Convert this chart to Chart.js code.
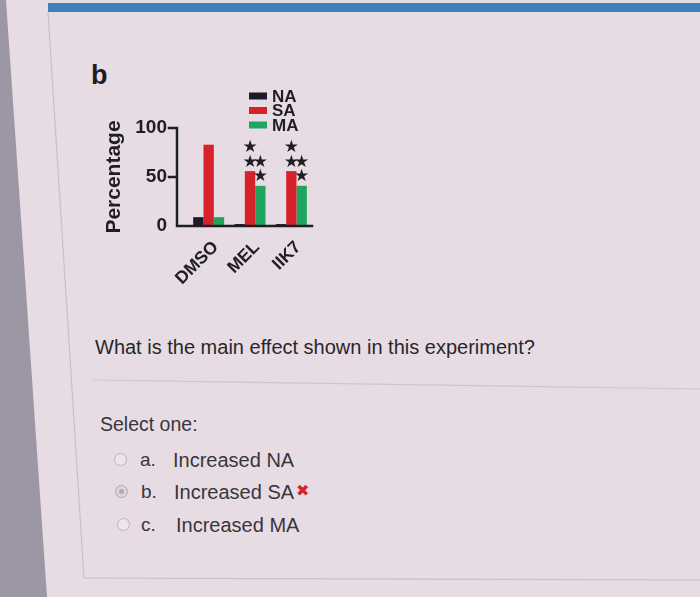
<!DOCTYPE html>
<html>
<head>
<meta charset="utf-8">
<script src="https://cdn.jsdelivr.net/npm/chart.js@4"></script>
<style>
  html, body { margin: 0; padding: 0; }
  body { width: 700px; height: 597px; background: #e7dce4; position: relative; overflow: hidden; font-family: "Liberation Sans", Arial, sans-serif; color: #2b2a2e; }
  #deco { position: absolute; left: 0; top: 0; }
  .txt { position: absolute; white-space: nowrap; }
  #fig { position: absolute; left: 80px; top: 60px; width: 250px; height: 240px; }
  .radio { position: absolute; width: 11px; height: 11px; border-radius: 50%; border: 1px solid #b9b3b9; background: #ece5ea; }
</style>
</head>
<body>
<svg id="deco" width="700" height="597">
  <polygon points="0,0 6,0 47,597 0,597" fill="#9d97a5"/>
  <rect x="48" y="3" width="652" height="9" fill="#3f80ba"/>
  <line x1="48" y1="12" x2="84" y2="578" stroke="#c9bfc7" stroke-width="1.2"/>
  <line x1="84" y1="578" x2="700" y2="580" stroke="#c9bfc7" stroke-width="1.2"/>
  <line x1="93" y1="380" x2="700" y2="389" stroke="#cfc5cd" stroke-width="1.2"/>
</svg>

<div class="txt" style="left:91px; top:60px; font-size:27px; font-weight:bold; color:#1e1d22;">b</div>
<div id="fig"><canvas id="chart"></canvas></div>

<div class="txt" style="left:95px; top:336px; font-size:20px; color:#28272b;">What is the main effect shown in this experiment?</div>
<div class="txt" style="left:100px; top:413px; font-size:19.5px; color:#38363b;">Select one:</div>

<div class="radio" style="left:114px; top:453px;"></div>
<div class="txt" style="left:140px; top:449px; font-size:19px; color:#38363b;">a.</div>
<div class="txt" style="left:173px; top:449px; font-size:20px; color:#38363b;">Increased NA</div>

<div class="radio" style="left:115px; top:485px; background:#b0aab0; box-shadow: inset 0 0 0 3px #ddd6db;"></div>
<div class="txt" style="left:141px; top:481px; font-size:19px; color:#38363b;">b.</div>
<div class="txt" style="left:174px; top:481px; font-size:20px; color:#38363b;">Increased SA</div>
<div class="txt" style="left:296px; top:481px; font-size:16px; font-weight:bold; color:#d1242f; font-family:'DejaVu Sans';">✖</div>

<div class="radio" style="left:117px; top:518px;"></div>
<div class="txt" style="left:141px; top:514px; font-size:19px; color:#38363b;">c.</div>
<div class="txt" style="left:176px; top:514px; font-size:20px; color:#38363b;">Increased MA</div>

<script>
// conditions and percentages
const conditions = ['DMSO', 'MEL', 'IIK7'];
const naValues = [9, 2, 2];
const saValues = [83, 56, 56];
const maValues = [9, 41, 41];
// significance stars above SA and MA bars
const saStars = ['', '**', '**'];
const maStars = ['', '**', '**'];
const yTicks = [0, 50, 100];

const FONT = '"Liberation Sans", Arial, sans-serif';
const INK = '#1f1e22';

// axis lines drawn a bit left of the first bar, like the figure
const axesPlugin = {
    id: 'axes',
    afterDraw(chart) {
        const ctx = chart.ctx;
        const y = chart.scales.y;
        const area = chart.chartArea;
        const xAxis = area.left - 11;
        ctx.save();
        ctx.strokeStyle = INK;
        ctx.lineWidth = 2.5;
        ctx.lineCap = 'square';
        ctx.beginPath();
        ctx.moveTo(xAxis, y.getPixelForValue(100));
        ctx.lineTo(xAxis, y.getPixelForValue(0));
        ctx.lineTo(area.right, y.getPixelForValue(0));
        yTicks.filter(v => v > 0).forEach(v => {
            ctx.moveTo(xAxis - 8, y.getPixelForValue(v));
            ctx.lineTo(xAxis, y.getPixelForValue(v));
        });
        ctx.stroke();
        ctx.restore();
    }
};

// stacked stars over the bars
const starsPlugin = {
    id: 'stars',
    afterDatasetsDraw(chart) {
        const ctx = chart.ctx;
        ctx.save();
        ctx.fillStyle = INK;
        ctx.font = '17px "DejaVu Sans"';
        ctx.textAlign = 'center';
        ctx.textBaseline = 'middle';
        chart.data.datasets.forEach((ds, di) => {
            if (!ds.stars) return;
            chart.getDatasetMeta(di).data.forEach((bar, i) => {
                const n = ds.stars[i].length;
                for (let k = 0; k < n; k++) {
                    ctx.fillText('★', bar.x, bar.y - 9 - k * 14.5);
                }
            });
        });
        ctx.restore();
    }
};

// vertical legend above the plot
const legendPlugin = {
    id: 'sideLegend',
    afterDraw(chart) {
        const ctx = chart.ctx;
        const area = chart.chartArea;
        ctx.save();
        ctx.font = 'bold 17px ' + FONT;
        ctx.textBaseline = 'middle';
        chart.data.datasets.forEach((ds, i) => {
            const cy = area.top - 32 + i * 14.5;
            ctx.fillStyle = ds.backgroundColor;
            ctx.fillRect(area.left + 61, cy - 3.5, 18, 7);
            ctx.fillStyle = INK;
            ctx.fillText(ds.label, area.left + 84, cy + 1);
        });
        ctx.restore();
    }
};

new Chart(document.getElementById('chart'), {
    type: 'bar',
    data: {
        labels: conditions,
        datasets: [{
            label: 'NA',
            data: naValues,
            backgroundColor: '#1d1b29'
        }, {
            label: 'SA',
            data: saValues,
            backgroundColor: '#d7222b',
            stars: saStars
        }, {
            label: 'MA',
            data: maValues,
            backgroundColor: '#20a55f',
            stars: maStars
        }]
    },
    options: {
        responsive: true,
        maintainAspectRatio: false,
        animation: false,
        layout: {
            padding: { top: 68, right: 18, left: 0, bottom: 0 }
        },
        datasets: {
            bar: { categoryPercentage: 0.75, barPercentage: 1.0, borderWidth: 0 }
        },
        plugins: {
            legend: { display: false },
            tooltip: { enabled: false }
        },
        scales: {
            x: {
                offset: true,
                grid: { display: false },
                border: { display: false },
                ticks: {
                    color: INK,
                    font: { family: FONT, size: 17.5, weight: 'bold' },
                    maxRotation: 45,
                    minRotation: 45,
                    padding: 3,
                    labelOffset: 7
                },
                afterFit(scale) { scale.height = 74; }
            },
            y: {
                min: 0,
                max: 100,
                grid: { display: false, drawTicks: false },
                border: { display: false },
                afterBuildTicks(scale) { scale.ticks = yTicks.map(v => ({ value: v })); },
                ticks: {
                    color: INK,
                    font: { family: FONT, size: 19, weight: 'bold' },
                    padding: 21
                },
                title: {
                    display: true,
                    text: 'Percentage',
                    color: INK,
                    font: { family: FONT, size: 21, weight: 'bold' },
                    padding: { top: 22, bottom: 0 }
                },
                afterFit(scale) { scale.width = 108; }
            }
        }
    },
    plugins: [axesPlugin, starsPlugin, legendPlugin]
});
</script>
</body>
</html>
